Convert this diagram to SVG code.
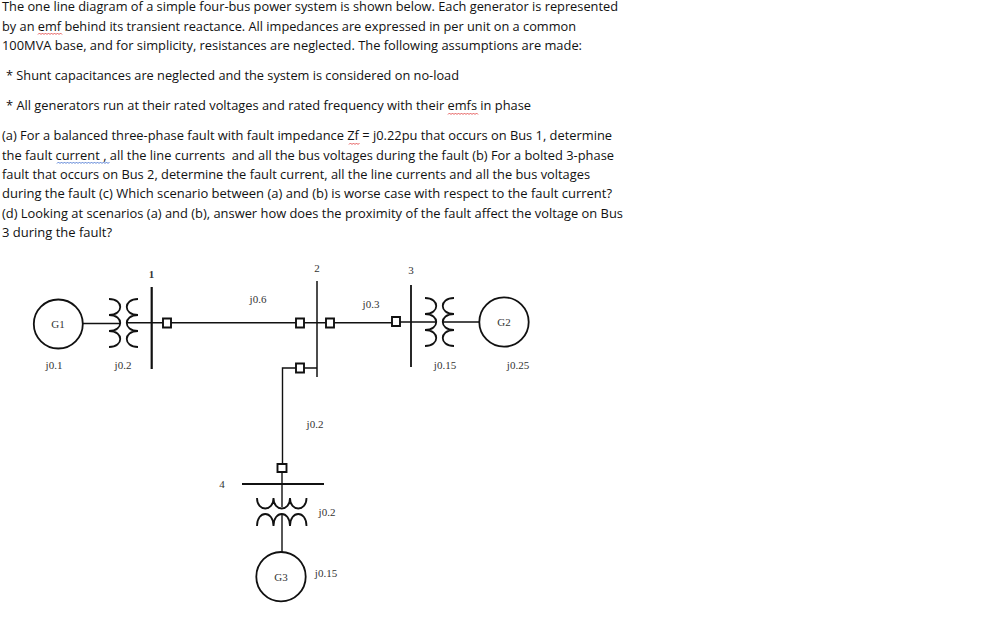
<svg xmlns="http://www.w3.org/2000/svg" width="1008" height="631" viewBox="0 0 1008 631">
<style>
.t{font-family:"Open Sans","Noto Sans",sans-serif;font-size:13px;fill:#111}
.l{font-family:"Liberation Serif",serif;font-size:11px;fill:#333}
.w{fill:none;stroke:#111;stroke-width:1.4}
.c{fill:none;stroke:#111;stroke-width:1.8}
.b{fill:#fff;stroke:#111;stroke-width:1.9}
.s{fill:none;stroke:#d33;stroke-width:.8}
.q{fill:none;stroke:#36c;stroke-width:.8}
</style>
<defs>
<path id="bk" class="b" d="M-4-4.500h8v9h-8z"/>
<path id="coil" class="c" d="M0-24c15,0 15,16 0,16c15,0 15,16 0,16c15,0 15,16 0,16"/>
</defs>
<rect width="1008" height="631" fill="#fff"/>
<g id="text">
<text class="t" x="2" y="11" textLength="616" lengthAdjust="spacingAndGlyphs">The one line diagram of a simple four-bus power system is shown below. Each generator is represented</text>
<text class="t" x="2" y="31" textLength="574" lengthAdjust="spacingAndGlyphs">by an emf behind its transient reactance. All impedances are expressed in per unit on a common</text>
<text class="t" x="2" y="50" textLength="580" lengthAdjust="spacingAndGlyphs">100MVA base, and for simplicity, resistances are neglected. The following assumptions are made:</text>
<text class="t" x="6" y="80" textLength="453" lengthAdjust="spacingAndGlyphs">* Shunt capacitances are neglected and the system is considered on no-load</text>
<text class="t" x="6" y="110" textLength="525" lengthAdjust="spacingAndGlyphs">* All generators run at their rated voltages and rated frequency with their emfs in phase</text>
<text class="t" x="2" y="140" textLength="610" lengthAdjust="spacingAndGlyphs">(a) For a balanced three-phase fault with fault impedance Zf = j0.22pu that occurs on Bus 1, determine</text>
<text class="t" x="2" y="160" textLength="612" lengthAdjust="spacingAndGlyphs" xml:space="preserve">the fault current , all the line currents  and all the bus voltages during the fault (b) For a bolted 3-phase</text>
<text class="t" x="2" y="179" textLength="588" lengthAdjust="spacingAndGlyphs">fault that occurs on Bus 2, determine the fault current, all the line currents and all the bus voltages</text>
<text class="t" x="2" y="198" textLength="610" lengthAdjust="spacingAndGlyphs">during the fault (c) Which scenario between (a) and (b) is worse case with respect to the fault current?</text>
<text class="t" x="2" y="218" textLength="621" lengthAdjust="spacingAndGlyphs">(d) Looking at scenarios (a) and (b), answer how does the proximity of the fault affect the voltage on Bus</text>
<text class="t" x="2" y="237" textLength="110" lengthAdjust="spacingAndGlyphs">3 during the fault?</text>
<path class="s" d="M38 34.500l1.500-1.500 1.500 1.500 1.500-1.500 1.500 1.500 1.500-1.500 1.500 1.500 1.500-1.500 1.500 1.500 1.500-1.500 1.500 1.500 1.500-1.500 1.500 1.500 1.500-1.500 1.500 1.500 1.500-1.500 1.500 1.500"/>
<path class="s" d="M448 114.500l1.500-1.500 1.500 1.500 1.500-1.500 1.500 1.500 1.500-1.500 1.500 1.500 1.500-1.500 1.500 1.500 1.500-1.500 1.500 1.500 1.500-1.500 1.500 1.500 1.500-1.500 1.500 1.500 1.500-1.500 1.500 1.500 1.500-1.500 1.500 1.500 1.500-1.500 1.500 1.500"/>
<path class="s" d="M349 144.500l1.500-1.500 1.500 1.500 1.500-1.500 1.500 1.500 1.500-1.500 1.500 1.500 1.500-1.500"/>
<path class="q" d="M57 163.500l1.500-1.500 1.500 1.500 1.500-1.500 1.500 1.500 1.500-1.500 1.500 1.500 1.500-1.500 1.500 1.500 1.500-1.500 1.500 1.500 1.500-1.500 1.500 1.500 1.500-1.500 1.500 1.500 1.500-1.500 1.500 1.500 1.500-1.500 1.500 1.500 1.500-1.500 1.500 1.500 1.500-1.500 1.500 1.500 1.500-1.500 1.500 1.500 1.500-1.500 1.500 1.500 1.500-1.500 1.500 1.500 1.500-1.500 1.500 1.500 1.500-1.500 1.500 1.500 1.500-1.500 1.500 1.500 1.500-1.500"/>
</g>
<g id="connectors">
<path class="w" d="M83 323.500H120M127 322.700H296M304 322.700H326M334 322.700H392M400 322H436M443 322H480"/>
<path class="w" d="M317 368H304M296 368H282.500V463.500M282 472.500V507M282 514V552"/>
</g>
<g id="G1"><circle class="c" cx="58.300" cy="324" r="24.500"/><text class="l" x="58" y="328" text-anchor="middle">G1</text><text class="l" x="54" y="369" text-anchor="middle">j0.1</text></g>
<g id="T1"><use href="#coil" x="109" y="323"/><use href="#coil" transform="translate(138 323) scale(-1 1)"/><text class="l" x="123" y="369" text-anchor="middle">j0.2</text></g>
<g id="bus1"><path d="M151.700 287V369" stroke="#111" stroke-width="2.200" fill="none"/><text class="l" x="151.500" y="278" text-anchor="middle" font-weight="bold">1</text></g>
<g id="line12"><use href="#bk" x="167" y="323"/><use href="#bk" x="300" y="323"/><text class="l" x="258" y="303" text-anchor="middle">j0.6</text></g>
<g id="bus2"><path d="M317 281V377" stroke="#111" stroke-width="1.500" fill="none"/><text class="l" x="317" y="272" text-anchor="middle">2</text></g>
<g id="line23"><use href="#bk" x="330" y="323"/><use href="#bk" x="396" y="321.500"/><text class="l" x="371" y="308" text-anchor="middle">j0.3</text></g>
<g id="line24"><use href="#bk" x="300" y="368"/><use href="#bk" transform="translate(282 468) rotate(90)"/><text class="l" x="315" y="428" text-anchor="middle">j0.2</text></g>
<g id="bus3"><path d="M411 285V367" stroke="#111" stroke-width="1.800" fill="none"/><text class="l" x="411" y="274" text-anchor="middle">3</text></g>
<g id="T2"><use href="#coil" x="425" y="322"/><use href="#coil" transform="translate(454 322) scale(-1 1)"/><text class="l" x="445" y="369" text-anchor="middle">j0.15</text></g>
<g id="G2"><circle class="c" cx="504" cy="322" r="24.700"/><text class="l" x="504" y="326" text-anchor="middle">G2</text><text class="l" x="518" y="369" text-anchor="middle">j0.25</text></g>
<g id="bus4"><path d="M242 484H324" stroke="#111" stroke-width="2.200" fill="none"/><text class="l" x="222" y="488" text-anchor="middle">4</text></g>
<g id="T3"><path class="c" d="M257 498c0,14 16.500,14 16.500,0c0,14 16.500,14 16.500,0c0,14 16.500,14 16.500,0"/><path class="c" d="M257 526c0,-16 16.500,-16 16.500,0c0,-16 16.500,-16 16.500,0c0,-16 16.500,-16 16.500,0"/><text class="l" x="327" y="516" text-anchor="middle">j0.2</text></g>
<g id="G3"><circle class="c" cx="281" cy="576.700" r="24.700"/><text class="l" x="281" y="581" text-anchor="middle">G3</text><text class="l" x="326" y="577" text-anchor="middle">j0.15</text></g>
</svg>
